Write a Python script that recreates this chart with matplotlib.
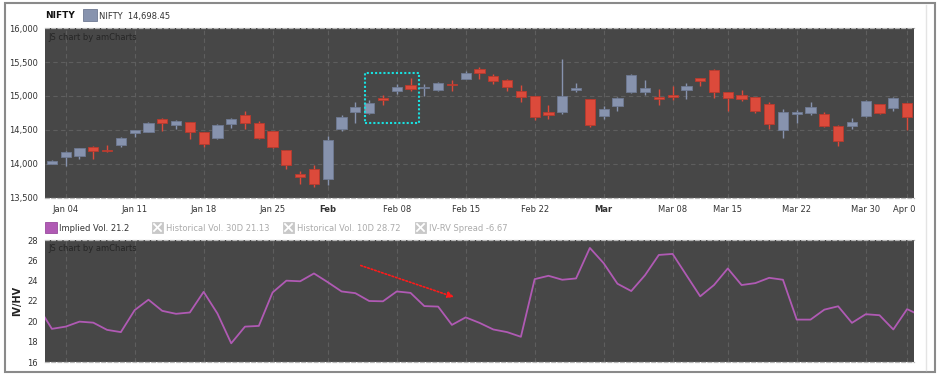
import matplotlib
matplotlib.use("Agg")
import matplotlib.pyplot as plt
from matplotlib.patches import Rectangle
from matplotlib.lines import Line2D
from matplotlib.transforms import Bbox, TransformedBbox

# NIFTY daily candles, Jan 01 - Apr 05 2021 (trading days, equal spacing)
opens = [14005, 14103, 14113, 14255, 14206, 14275, 14451, 14471, 14667, 14578,
         14613, 14471, 14382, 14588, 14716, 14603, 14480, 14201, 13853, 13927,
         13784, 14510, 14770, 14755, 14966, 15069, 15162, 15113, 15093, 15181,
         15255, 15392, 15294, 15235, 15069, 14995, 14770, 14765, 15083, 14956,
         14711, 14848, 15064, 15054, 14980, 15020, 15083, 15265, 15382, 15059,
         15020, 14980, 14882, 14505, 14740, 14750, 14735, 14564, 14559, 14706,
         14877, 14828, 14897]
highs = [14065, 14186, 14240, 14260, 14284, 14390, 14505, 14620, 14670, 14647,
         14620, 14475, 14588, 14672, 14775, 14627, 14490, 14205, 13902, 13980,
         14407, 14716, 14907, 14946, 15015, 15176, 15265, 15176, 15206, 15240,
         15363, 15431, 15324, 15255, 15157, 15000, 14873, 15539, 15186, 14960,
         14848, 14990, 15324, 15240, 15108, 15142, 15186, 15270, 15390, 15062,
         15088, 14985, 14912, 14809, 14799, 14912, 14765, 14570, 14681, 14946,
         14880, 14990, 14900]
lows = [13995, 13975, 14074, 14078, 14180, 14255, 14402, 14465, 14480, 14510,
        14373, 14245, 14368, 14530, 14520, 14368, 14235, 13931, 13706, 13667,
        13696, 14490, 14608, 14735, 14873, 15034, 15069, 14995, 15078, 15078,
        15245, 15255, 15176, 15078, 14912, 14642, 14667, 14735, 15059, 14539,
        14667, 14784, 15044, 15010, 14873, 14936, 14961, 15142, 14971, 14775,
        14922, 14745, 14510, 14377, 14603, 14716, 14539, 14265, 14510, 14686,
        14735, 14775, 14500]
closes = [14050, 14172, 14235, 14186, 14186, 14382, 14500, 14608, 14608, 14637,
          14466, 14294, 14574, 14657, 14598, 14382, 14245, 13980, 13804, 13706,
          14358, 14696, 14833, 14897, 14941, 15137, 15098, 15132, 15191, 15157,
          15343, 15338, 15216, 15127, 14990, 14686, 14721, 15005, 15113, 14574,
          14809, 14966, 15304, 15118, 14951, 14980, 15152, 15216, 15059, 14971,
          14956, 14775, 14588, 14770, 14755, 14838, 14559, 14333, 14613, 14922,
          14755, 14966, 14698.45]

# implied volatility, one value per day (index 0 = day before first candle,
# last value = day after the last candle, both cut by the plot edges)
iv = [21.44, 19.26, 19.48, 19.97, 19.87, 19.16, 18.94, 21.10, 22.13, 21.03,
      20.74, 20.87, 22.90, 20.77, 17.84, 19.48, 19.55, 22.84, 24.00, 23.94,
      24.71, 23.85, 22.94, 22.77, 22.00, 21.97, 22.94, 22.80, 21.50, 21.45,
      19.65, 20.39, 19.85, 19.20, 18.94, 18.48, 24.15, 24.48, 24.09, 24.22,
      27.22, 25.72, 23.70, 22.98, 24.54, 26.53, 26.63, 24.54, 22.46, 23.57,
      25.20, 23.57, 23.76, 24.28, 24.09, 20.17, 20.17, 21.15, 21.48, 19.85,
      20.70, 20.60, 19.20, 21.20, 20.55]

tick_idx = [2, 7, 12, 17, 21, 26, 31, 36, 41, 46, 50, 55, 60, 63]
tick_labels = ["Jan 04", "Jan 11", "Jan 18", "Jan 25", "Feb", "Feb 08", "Feb 15",
               "Feb 22", "Mar", "Mar 08", "Mar 15", "Mar 22", "Mar 30", "Apr 05"]
price_ticks = [13500, 14000, 14500, 15000, 15500, 16000]
price_labels = ["13,500", "14,000", "14,500", "15,000", "15,500", "16,000"]
iv_ticks = [16, 18, 20, 22, 24, 26, 28]

BG = "#474747"
GRID = "#5e5e5e"
UP = "#8793ae"
UP_EDGE = "#6f7a93"
DOWN = "#dc4a3b"
DOWN_EDGE = "#b83a2e"
PURPLE = "#b05ab4"
TXT = "#333333"

W, H = 940, 376
fig = plt.figure(figsize=(W / 100, H / 100), dpi=100)
fig.patch.set_facecolor("white")


def fx(px):
    return px / W


def fy(py):
    return 1 - py / H


ax1 = fig.add_axes([fx(45), fy(198), fx(914 - 45), (198 - 28) / H])
ax2 = fig.add_axes([fx(45), fy(362), fx(914 - 45), (362 - 240) / H])

for ax in (ax1, ax2):
    ax.set_facecolor(BG)
    ax.set_xlim(0.5, 63.5)
    for s in ("left", "right"):
        ax.spines[s].set_visible(False)
    for s in ("top", "bottom"):
        ax.spines[s].set_color("#b8b8b8")
        ax.spines[s].set_linestyle((0, (3, 2)))
        ax.spines[s].set_linewidth(0.9)
    ax.tick_params(length=0, labelsize=6, colors=TXT, pad=5)
    ax.set_xticks(tick_idx)
    for t in tick_idx:
        ax.axvline(t, color=GRID, lw=0.8, ls=(0, (4, 3)), zorder=0.5)
    ax.set_axisbelow(True)

# candles
xs = list(range(1, len(opens) + 1))
for x, o, h, l, c in zip(xs, opens, highs, lows, closes):
    up = c >= o
    col, ecol = (UP, UP_EDGE) if up else (DOWN, DOWN_EDGE)
    ax1.vlines(x, l, h, color=col, lw=1.0, zorder=2)
    body = max(abs(c - o), 18)
    ax1.bar(x, body, bottom=min(o, c), width=0.74, color=col,
            edgecolor=ecol, linewidth=0.6, zorder=3)

ax1.set_ylim(13500, 16000)
ax1.set_yticks(price_ticks)
ax1.set_yticklabels(price_labels)
for p in price_ticks[1:-1]:
    ax1.axhline(p, color=GRID, lw=0.8, ls=(0, (4, 3)), zorder=0.5)
ax1.set_xticklabels(tick_labels)
clip = TransformedBbox(Bbox([[0, 0], [fx(915), 1]]), fig.transFigure)
for lbl in ax1.get_xticklabels():
    if lbl.get_text() in ("Feb", "Mar"):
        lbl.set_fontweight("bold")
    lbl.set_clip_box(clip)
    lbl.set_clip_on(True)

ax1.add_patch(Rectangle((23.67, 14603), 3.96, 740, fill=False,
                        ec="#19e0e0", lw=1.5, ls=(0, (1, 1)), zorder=5))

# implied volatility
ax2.plot(range(0, len(iv)), iv, color=PURPLE, lw=1.3, zorder=3)
ax2.set_ylim(16, 28)
ax2.set_yticks(iv_ticks)
ax2.set_xticklabels([])
ax2.set_ylabel("IV/HV", fontsize=7, fontweight="bold", color="#222222",
               labelpad=4)
ax2.annotate("", xy=(30.34, 22.3), xytext=(23.2, 25.58),
             arrowprops=dict(arrowstyle="-|>", color="#ff1a1a", lw=1.2,
                             ls=(0, (1, 1.2)), mutation_scale=9), zorder=6)

# watermarks
for ax in (ax1, ax2):
    ax.text(0.004, 0.97, "JS chart by amCharts", transform=ax.transAxes,
            fontsize=6, color="#262626", va="top", ha="left")

# upper legend
fig.text(fx(45), fy(16), "NIFTY", fontsize=6.5, fontweight="bold",
         color="#111111", va="center")
fig.patches.append(Rectangle((fx(83), fy(21)), fx(14), 12 / H,
                             transform=fig.transFigure, fc=UP, ec=UP_EDGE,
                             lw=0.6))
fig.text(fx(99), fy(16), "NIFTY  14,698.45", fontsize=6, color=TXT,
         va="center")

# lower legend
fig.patches.append(Rectangle((fx(45), fy(233)), fx(12), 11 / H,
                             transform=fig.transFigure, fc=PURPLE,
                             ec="#9a4a9e", lw=0.6))
fig.text(fx(59), fy(228), "Implied Vol. 21.2", fontsize=6, color=TXT,
         va="center")
off = [(152, "Historical Vol. 30D 21.13"), (283, "Historical Vol. 10D 28.72"),
       (415, "IV-RV Spread -6.67")]
for x0, label in off:
    fig.patches.append(Rectangle((fx(x0), fy(233)), fx(11), 11 / H,
                                 transform=fig.transFigure, fc="#c8c8c8",
                                 ec="#c8c8c8", lw=0.6))
    for a, b in (((x0 + 2, 224), (x0 + 9, 231)), ((x0 + 2, 231), (x0 + 9, 224))):
        fig.lines.append(Line2D([fx(a[0]), fx(b[0])], [fy(a[1]), fy(b[1])],
                                transform=fig.transFigure, color="white",
                                lw=1.3))
    fig.text(fx(x0 + 14), fy(228), label, fontsize=6, color="#ababab",
             va="center")

# frame around the screenshot
fig.patches.append(Rectangle((fx(5), fy(372)), fx(930), (372 - 3) / H,
                             transform=fig.transFigure, fill=False,
                             ec="#8a8a8a", lw=1.5))
fig.lines.append(Line2D([fx(926), fx(926)], [fy(5), fy(370)],
                        transform=fig.transFigure, color="#e4e4e4", lw=1))

fig.savefig("out.png", dpi=100)
